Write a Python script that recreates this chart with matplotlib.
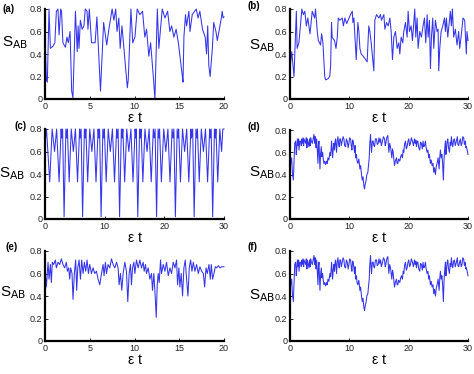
import matplotlib

matplotlib.use("Agg")
import matplotlib.pyplot as plt

plt.rcParams["font.family"] = ["Liberation Sans", "DejaVu Sans"]

# ---- data ----
a_t = [0.0, 0.02, 0.15, 0.26, 0.45, 0.6, 0.9, 1.1, 1.27, 1.45, 1.57, 1.75, 1.85, 2.0,
       2.28, 2.45, 2.6, 2.8, 2.98, 3.12, 3.4, 3.6, 3.7, 3.8, 3.95, 4.15, 4.35, 4.5, 4.7,
       4.8, 4.95, 5.2, 5.6, 5.8, 6.2, 6.55, 6.9, 7.1, 7.5, 7.7, 7.9, 8.05, 8.25, 8.4, 8.6,
       9.2, 9.3, 9.6, 9.8, 10.05, 10.3, 10.6, 10.9, 11.15, 11.35, 11.6, 11.8, 12.15, 12.28,
       12.55, 12.72, 13.1, 13.4, 13.7, 13.95, 14.15, 14.4, 14.65, 14.9, 15.35, 15.42, 15.52,
       15.7, 15.82, 16.08, 16.2, 16.45, 16.9, 17.1, 17.3, 17.6, 17.9, 18.05, 18.18, 18.3,
       18.45, 18.7, 18.85, 19.1, 19.25, 19.48, 19.7, 19.8, 19.9, 20.0]
a_v = [0.0, 0.55, 0.17, 0.15, 0.80, 0.45, 0.47, 0.50, 0.78, 0.80, 0.57, 0.80, 0.78, 0.50,
       0.46, 0.55, 0.50, 0.60, 0.07, 0.01, 0.78, 0.42, 0.65, 0.45, 0.70, 0.62, 0.65, 0.80, 0.78,
       0.62, 0.80, 0.50, 0.50, 0.73, 0.07, 0.68, 0.48, 0.60, 0.80, 0.70, 0.80, 0.60, 0.72, 0.45, 0.65,
       0.10, 0.17, 0.80, 0.50, 0.55, 0.80, 0.75, 0.78, 0.55, 0.62, 0.38, 0.50, 0.15, 0.0,
       0.80, 0.45, 0.80, 0.72, 0.78, 0.60, 0.65, 0.55, 0.62, 0.50, 0.20, 0.15, 0.55,
       0.75, 0.65, 0.78, 0.60, 0.75, 0.80, 0.72, 0.78, 0.62, 0.55, 0.40, 0.65, 0.30,
       0.20, 0.45, 0.68, 0.60, 0.52, 0.62, 0.72, 0.78, 0.72, 0.73]

b_t = [0.0, 0.05, 0.3, 0.67, 1.07, 1.2, 1.5, 2.0, 2.25, 2.5, 2.75, 3.0, 3.37, 3.75, 4.15,
       4.3, 4.6, 4.77, 5.15, 5.33, 5.55, 5.85, 6.0, 6.4, 6.7, 6.85, 7.0, 7.1, 7.5, 7.75,
       7.97, 8.13, 8.4, 8.8, 9.0, 9.25, 9.55, 10.2, 10.5, 10.6, 10.77, 11.16, 11.33, 11.44,
       11.61, 11.78, 12.0, 12.34, 12.62, 13.0, 13.28, 13.46, 13.68, 14.13, 14.3, 14.58,
       14.97, 15.25, 15.42, 15.82, 15.99, 16.27, 16.55, 16.83, 17.05, 17.27, 17.5, 17.78,
       18.06, 18.34, 18.51, 18.73, 19.01, 19.18, 19.46, 19.74, 19.91, 20.13, 20.41, 20.64,
       21.03, 21.2, 21.42, 21.59, 21.87, 22.15, 22.43, 22.66, 22.88, 23.11, 23.28, 23.5,
       23.67, 23.84, 24.06, 24.23, 24.51, 24.79, 24.96, 25.07, 25.24, 25.47, 25.75, 26.03,
       26.2, 26.36, 26.59, 27.03, 27.2, 27.37, 27.59, 27.87, 28.15, 28.43, 28.6, 28.83,
       29.16, 29.44, 29.72, 29.83, 30.0]
b_v = [0.0, 0.30, 0.42, 0.20, 0.78, 0.45, 0.50, 0.80, 0.75, 0.78, 0.65, 0.72, 0.58, 0.78, 0.72,
       0.80, 0.60, 0.52, 0.48, 0.58, 0.50, 0.20, 0.17, 0.18, 0.20, 0.30, 0.68, 0.55, 0.52, 0.45,
       0.55, 0.72, 0.70, 0.72, 0.65, 0.72, 0.67, 0.75, 0.78, 0.68, 0.72, 0.35, 0.55, 0.68,
       0.60, 0.45, 0.40, 0.38, 0.36, 0.33, 0.65, 0.60, 0.50, 0.25, 0.70, 0.75,
       0.72, 0.75, 0.70, 0.75, 0.62, 0.68, 0.65, 0.72, 0.60, 0.35, 0.55, 0.60,
       0.45, 0.50, 0.40, 0.55, 0.50, 0.60, 0.68, 0.55, 0.78, 0.60, 0.65, 0.52,
       0.80, 0.55, 0.72, 0.45, 0.60, 0.55, 0.65, 0.72, 0.50, 0.75, 0.55, 0.70,
       0.27, 0.55, 0.72, 0.45, 0.70, 0.60, 0.62, 0.25, 0.45, 0.60, 0.65, 0.72,
       0.60, 0.72, 0.55, 0.78, 0.65, 0.80, 0.55, 0.62, 0.48, 0.60, 0.45, 0.55,
       0.72, 0.70, 0.40, 0.60, 0.52]

c_t = [0.0, 0.1, 0.25, 0.79, 1.2, 1.6, 1.95, 2.36, 2.7, 2.8, 2.95, 3.2,
       3.5, 3.65, 3.75, 4.05, 4.4, 4.75, 5.1, 5.45, 5.8, 5.9, 6.05, 6.3,
       6.6, 6.75, 6.85, 7.15, 7.5, 7.85, 8.2, 8.55, 8.9, 9.0, 9.15, 9.4,
       9.7, 9.85, 9.95, 10.25, 10.6, 10.95, 11.3, 11.65, 12.0, 12.1, 12.25, 12.5,
       12.8, 12.95, 13.05, 13.35, 13.7, 14.05, 14.4, 14.75, 15.1, 15.2, 15.3, 15.55,
       15.85, 16.0, 16.1, 16.4, 16.75, 17.1, 17.45, 17.8, 18.15, 18.3, 18.45, 18.7,
       18.95, 19.1, 19.2, 19.5, 19.9, 20.25, 20.6, 20.95, 21.3, 21.45, 21.6, 21.85,
       22.15, 22.3, 22.4, 22.7, 23.05, 23.4, 23.75, 24.1, 24.45, 24.55, 24.75, 25.0,
       25.3, 25.45, 25.55, 25.85, 26.2, 26.55, 26.9, 27.25, 27.6, 27.7, 27.85, 28.1,
       28.4, 28.55, 28.65, 28.95, 29.3, 29.6, 29.8, 30.0]
c_v = [0.80, 0.72, 0.80, 0.33, 0.80, 0.60, 0.80, 0.33, 0.80, 0.72, 0.80, 0.02,
       0.80, 0.72, 0.80, 0.33, 0.80, 0.60, 0.80, 0.33, 0.80, 0.72, 0.80, 0.02,
       0.80, 0.72, 0.80, 0.33, 0.80, 0.60, 0.80, 0.33, 0.80, 0.72, 0.80, 0.02,
       0.80, 0.72, 0.80, 0.33, 0.80, 0.60, 0.80, 0.33, 0.80, 0.72, 0.80, 0.02,
       0.80, 0.72, 0.80, 0.33, 0.80, 0.60, 0.80, 0.33, 0.80, 0.72, 0.80, 0.02,
       0.80, 0.72, 0.80, 0.33, 0.80, 0.60, 0.80, 0.33, 0.80, 0.72, 0.80, 0.02,
       0.80, 0.72, 0.80, 0.33, 0.80, 0.60, 0.80, 0.33, 0.80, 0.72, 0.80, 0.02,
       0.80, 0.72, 0.80, 0.33, 0.80, 0.60, 0.80, 0.33, 0.80, 0.72, 0.80, 0.02,
       0.80, 0.72, 0.80, 0.33, 0.80, 0.60, 0.80, 0.33, 0.80, 0.72, 0.80, 0.02,
       0.80, 0.72, 0.80, 0.33, 0.80, 0.60, 0.80, 0.80]

# (t, S_AB) readings for panel (d)
d_pts = [
    (0.0, 0.45), (0.12, 0.50), (0.28, 0.55), (0.4, 0.42), (0.56, 0.35), (0.7, 0.55),
    (0.8, 0.68), (0.95, 0.70), (1.05, 0.58), (1.12, 0.62), (1.25, 0.72), (1.35, 0.66),
    (1.45, 0.72), (1.52, 0.62), (1.65, 0.70), (1.8, 0.70), (1.9, 0.66), (2.0, 0.72),
    (2.08, 0.68), (2.2, 0.73), (2.3, 0.66), (2.36, 0.72), (2.5, 0.70), (2.64, 0.68),
    (2.75, 0.73), (2.85, 0.64), (2.92, 0.72), (3.05, 0.69), (3.2, 0.65), (3.3, 0.72),
    (3.4, 0.66), (3.48, 0.73), (3.6, 0.70), (3.76, 0.68), (3.9, 0.72), (4.04, 0.76),
    (4.15, 0.68), (4.25, 0.74), (4.32, 0.70), (4.4, 0.64), (4.49, 0.72), (4.6, 0.62),
    (4.71, 0.50), (4.8, 0.66), (4.88, 0.70), (4.96, 0.58), (5.05, 0.45), (5.15, 0.58),
    (5.27, 0.65), (5.38, 0.56), (5.5, 0.60), (5.6, 0.54), (5.72, 0.50), (5.85, 0.52),
    (6.0, 0.49), (6.17, 0.52), (6.28, 0.50), (6.39, 0.55), (6.55, 0.53), (6.73, 0.60),
    (6.85, 0.57), (7.01, 0.70), (7.1, 0.62), (7.18, 0.55), (7.3, 0.64), (7.4, 0.68),
    (7.5, 0.62), (7.6, 0.70), (7.68, 0.72), (7.77, 0.66), (7.85, 0.60), (7.95, 0.70),
    (8.08, 0.74), (8.18, 0.68), (8.3, 0.65), (8.4, 0.72), (8.52, 0.72), (8.65, 0.66),
    (8.8, 0.70), (8.95, 0.74), (9.09, 0.72), (9.2, 0.66), (9.37, 0.65), (9.5, 0.72),
    (9.65, 0.70), (9.8, 0.64), (9.93, 0.68), (10.05, 0.73), (10.21, 0.72), (10.32, 0.66),
    (10.43, 0.62), (10.55, 0.71), (10.66, 0.70), (10.78, 0.64), (10.88, 0.60), (10.97, 0.66),
    (11.05, 0.55), (11.2, 0.58), (11.3, 0.52), (11.44, 0.50), (11.6, 0.54), (11.78, 0.45),
    (11.9, 0.48), (12.05, 0.40), (12.17, 0.35), (12.3, 0.38), (12.45, 0.30), (12.56, 0.27),
    (12.7, 0.32), (12.84, 0.35), (12.95, 0.40), (13.12, 0.42), (13.25, 0.50), (13.35, 0.55),
    (13.45, 0.68), (13.57, 0.76), (13.66, 0.66), (13.74, 0.60), (13.88, 0.70), (14.02, 0.70),
    (14.12, 0.66), (14.25, 0.65), (14.4, 0.72), (14.58, 0.72), (14.7, 0.67), (14.86, 0.68),
    (15.0, 0.73), (15.13, 0.69), (15.26, 0.72), (15.4, 0.66), (15.59, 0.70), (15.75, 0.74),
    (15.93, 0.72), (16.05, 0.66), (16.15, 0.68), (16.3, 0.73), (16.49, 0.75), (16.58, 0.66),
    (16.66, 0.60), (16.8, 0.68), (16.94, 0.65), (17.05, 0.60), (17.16, 0.55), (17.28, 0.63),
    (17.39, 0.60), (17.5, 0.54), (17.61, 0.48), (17.75, 0.52), (17.95, 0.55), (18.05, 0.50),
    (18.17, 0.50), (18.3, 0.54), (18.51, 0.52), (18.65, 0.56), (18.79, 0.58), (18.95, 0.55),
    (19.08, 0.62), (19.18, 0.60), (19.3, 0.67), (19.46, 0.70), (19.6, 0.63), (19.74, 0.65),
    (19.88, 0.70), (20.02, 0.72), (20.15, 0.66), (20.3, 0.68), (20.45, 0.73), (20.64, 0.70),
    (20.8, 0.66), (20.98, 0.72), (21.1, 0.68), (21.2, 0.71), (21.31, 0.65), (21.42, 0.70),
    (21.54, 0.70), (21.7, 0.64), (21.87, 0.62), (22.0, 0.69), (22.15, 0.68), (22.3, 0.63),
    (22.42, 0.70), (22.54, 0.65), (22.68, 0.66), (22.82, 0.70), (22.95, 0.64), (23.1, 0.60),
    (23.25, 0.62), (23.38, 0.55), (23.5, 0.58), (23.66, 0.50), (23.8, 0.53), (23.95, 0.48),
    (24.1, 0.50), (24.23, 0.42), (24.35, 0.46), (24.51, 0.40), (24.65, 0.47), (24.79, 0.50),
    (24.96, 0.55), (25.05, 0.50), (25.13, 0.45), (25.25, 0.56), (25.35, 0.62), (25.48, 0.55),
    (25.6, 0.58), (25.72, 0.50), (25.85, 0.35), (25.95, 0.52), (26.03, 0.60), (26.12, 0.66),
    (26.2, 0.70), (26.28, 0.58), (26.37, 0.62), (26.48, 0.70), (26.59, 0.72), (26.72, 0.64),
    (26.87, 0.60), (27.0, 0.69), (27.1, 0.66), (27.2, 0.74), (27.32, 0.68), (27.43, 0.65),
    (27.58, 0.71), (27.71, 0.72), (27.85, 0.66), (28.04, 0.70), (28.2, 0.74), (28.3, 0.67),
    (28.43, 0.66), (28.58, 0.70), (28.71, 0.72), (28.85, 0.66), (28.99, 0.68), (29.12, 0.74),
    (29.27, 0.73), (29.4, 0.67), (29.55, 0.70), (29.65, 0.64), (29.72, 0.65), (29.86, 0.62),
    (30.0, 0.58),
]
d_t = [p[0] for p in d_pts]
d_v = [p[1] for p in d_pts]

e_t = [0.0, 0.04, 0.15, 0.34, 0.45, 0.6, 0.71, 0.82, 0.97, 1.16, 1.27, 1.46, 1.64, 1.83,
       2.01, 2.2, 2.39, 2.5, 2.65, 2.76, 2.87, 3.02, 3.13, 3.28, 3.43, 3.54, 3.66, 3.81,
       3.96, 4.1, 4.25, 4.4, 4.55, 4.7, 4.85, 5.0, 5.19, 5.37, 5.56, 5.75, 5.93, 6.12,
       6.31, 6.49, 6.6, 6.75, 6.87, 7.05, 7.24, 7.43, 7.61, 7.8, 7.99, 8.17, 8.28, 8.43,
       8.58, 8.73, 8.92, 9.1, 9.25, 9.4, 9.55, 9.66, 9.78, 9.93, 10.04, 10.22, 10.41,
       10.6, 10.78, 10.97, 11.08, 11.23, 11.34, 11.53, 11.72, 11.9, 12.01, 12.16, 12.31,
       12.43, 12.54, 12.65, 12.76, 12.91, 13.02, 13.21, 13.4, 13.58, 13.77, 13.96, 14.14,
       14.33, 14.52, 14.7, 14.81, 14.96, 15.07, 15.22, 15.37, 15.52, 15.67, 15.82, 15.97,
       16.12, 16.27, 16.42, 16.57, 16.75, 16.94, 17.13, 17.31, 17.5, 17.69, 17.84, 17.99,
       18.13, 18.32, 18.47, 18.58, 18.73, 18.88, 19.03, 19.18, 19.37, 19.55, 19.74, 19.93, 20.0]
e_v = [0.42, 0.60, 0.48, 0.70, 0.55, 0.68, 0.52, 0.70, 0.68, 0.72, 0.65, 0.70, 0.68, 0.73,
       0.68, 0.65, 0.70, 0.62, 0.65, 0.55, 0.65, 0.60, 0.37, 0.60, 0.72, 0.45, 0.65, 0.72,
       0.55, 0.72, 0.60, 0.70, 0.62, 0.72, 0.60, 0.68, 0.60, 0.65, 0.60, 0.62, 0.55, 0.50,
       0.60, 0.68, 0.58, 0.70, 0.60, 0.68, 0.65, 0.73, 0.68, 0.65, 0.70, 0.65, 0.50, 0.60,
       0.45, 0.60, 0.70, 0.62, 0.35, 0.60, 0.68, 0.50, 0.65, 0.70, 0.60, 0.72, 0.65,
       0.72, 0.65, 0.70, 0.62, 0.68, 0.60, 0.65, 0.55, 0.60, 0.45, 0.60, 0.40,
       0.21, 0.50, 0.60, 0.52, 0.72, 0.60, 0.68, 0.62, 0.70, 0.58, 0.65, 0.60,
       0.70, 0.65, 0.72, 0.50, 0.65, 0.48, 0.60, 0.40, 0.65, 0.72, 0.55, 0.40,
       0.65, 0.72, 0.62, 0.70, 0.62, 0.68, 0.60, 0.66, 0.62, 0.60, 0.48, 0.65,
       0.60, 0.68, 0.55, 0.68, 0.55, 0.60, 0.66, 0.65, 0.67, 0.65, 0.66, 0.66, 0.66]

# panel (f) shows the same trace as (d)
f_t = list(d_t)
f_v = list(d_v)

panels = [
    ("(a)", a_t, a_v, 20, [0, 5, 10, 15, 20]),
    ("(b)", b_t, b_v, 30, [0, 10, 20, 30]),
    ("(c)", c_t, c_v, 30, [0, 10, 20, 30]),
    ("(d)", d_t, d_v, 30, [0, 10, 20, 30]),
    ("(e)", e_t, e_v, 20, [0, 5, 10, 15, 20]),
    ("(f)", f_t, f_v, 30, [0, 10, 20, 30]),
]
y_ticks = [0, 0.2, 0.4, 0.6, 0.8]
y_labels = ["0", "0.2", "0.4", "0.6", "0.8"]

W, H = 474, 374
# axes boxes in pixels: left, top, right, bottom
boxes = [(45, 9, 224, 99), (290, 9, 468, 99),
         (45, 129, 224, 219), (290, 130, 468, 219),
         (45, 251, 224, 341), (290, 251, 468, 341)]
# S_AB label (x px of left edge, y in data units), tag position (axes fraction)
s_pos = [(2, 0.50), (249, 0.47), (-1, 0.40), (249, 0.42), (0, 0.43), (249, 0.40)]
tag_pos = [(-0.235, 1.0), (-0.24, 1.03), (-0.17, 1.03), (-0.24, 1.03), (-0.22, 1.05), (-0.24, 1.05)]

fig = plt.figure(figsize=(W / 100, H / 100), dpi=100)

for i, (tag, t, v, tmax, xt) in enumerate(panels):
    l, tp, r, b = boxes[i]
    ax = fig.add_axes([l / W, 1 - b / H, (r - l) / W, (b - tp) / H])
    ax.plot(t, v, color="#3434ec", lw=0.75, clip_on=False)
    ax.set_xlim(0, tmax)
    ax.set_ylim(0, 0.8)
    ax.set_xticks(xt)
    ax.set_xticklabels([str(x) for x in xt])
    ax.set_yticks(y_ticks)
    ax.set_yticklabels(y_labels)
    for s in ["top", "right"]:
        ax.spines[s].set_visible(False)
    for s in ["left", "bottom"]:
        ax.spines[s].set_linewidth(1.6)
    ax.tick_params(direction="in", length=2, width=0.6, labelsize=6.5, pad=2,
                   labelcolor="#222222")
    ax.set_xlabel("ε t", fontsize=10, labelpad=0)

    sx, sy = s_pos[i]
    ax.text((sx - l) / (r - l), sy, r"S$_{\rm AB}$", transform=ax.get_yaxis_transform(),
            fontsize=11, ha="left", va="center")
    ax.text(tag_pos[i][0], tag_pos[i][1], tag, transform=ax.transAxes,
            fontsize=7, fontweight="bold", ha="left", va="center")

fig.savefig("out.png", dpi=100)
